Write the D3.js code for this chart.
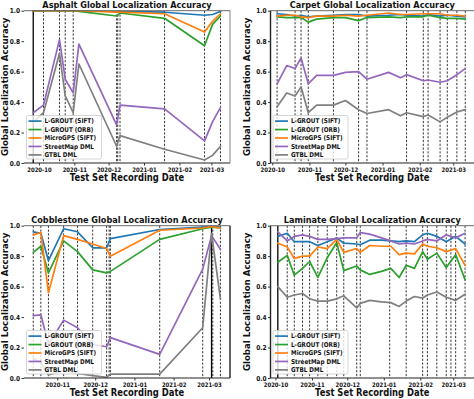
<!DOCTYPE html>
<html><head><meta charset="utf-8">
<script src="https://cdn.jsdelivr.net/npm/d3@7"></script>
<style>
body{margin:0;background:#fff}
svg{display:block}
text{font-family:"DejaVu Sans",sans-serif;font-weight:bold;fill:#111}
</style>
</head><body>
<svg id="c" width="474" height="399"></svg>
<script>
const seriesNames = ["L-GROUT (SIFT)","L-GROUT (ORB)","MicroGPS (SIFT)","StreetMap DML","GTBL DML"];
const seriesColors = ["#1f77b4","#2ca02c","#ff7f0e","#9467bd","#7f7f7f"];
const yTicks = [0,0.2,0.4,0.6,0.8,1.0];
const xLabel = "Test Set Recording Date";
const yLabel = "Global Localization Accuracy";

// ---- Asphalt ----
const asphaltDates = ["2020-09-26","2020-10-05","2020-10-19","2020-10-24","2020-10-31","2020-11-05","2020-12-08","2020-12-11","2021-01-19","2021-02-23","2021-03-02","2021-03-09"];
const asphaltSift   = [1,1,1,1,1,1,0.995,0.995,0.99,0.97,0.975,0.995];
const asphaltOrb    = [1,1,1,1,1,0.995,0.965,0.985,0.95,0.77,0.91,0.965];
const asphaltMicro  = [1,1,1,1,1,1,0.99,0.99,0.98,0.86,0.93,0.98];
const asphaltStreet = [0.33,0.38,0.81,0.55,0.46,0.78,0.25,0.38,0.355,0.145,0.27,0.365];
const asphaltGtbl   = [0.27,0.33,0.72,0.44,0.33,0.65,0.11,0.18,0.09,0.02,0.05,0.11];
const asphaltMarks  = ["2020-09-26","2020-09-26","2020-10-05","2020-10-19","2020-10-24","2020-10-31","2020-12-08","2020-12-09","2020-12-11","2021-01-19","2021-02-23","2021-03-09"];
const asphaltXlim   = ["2020-09-17T22:00","2021-03-17T07:00"];

// ---- Carpet ----
const carpetDates = ["2020-10-05","2020-10-13","2020-10-20","2020-10-25","2020-10-31","2020-11-07","2020-11-21","2020-12-01","2020-12-12","2020-12-19","2021-01-06","2021-01-16","2021-01-21","2021-02-04","2021-02-08","2021-02-18","2021-02-24","2021-03-04","2021-03-11"];
const carpetSift   = [0.98,0.975,0.965,0.97,0.96,0.965,0.97,0.975,0.975,0.965,0.97,0.975,0.97,0.965,0.975,0.965,0.97,0.965,0.96];
const carpetOrb    = [0.96,0.955,0.955,0.955,0.925,0.945,0.955,0.955,0.935,0.955,0.96,0.955,0.96,0.96,0.97,0.955,0.95,0.95,0.945];
const carpetMicro  = [0.965,0.97,0.97,0.96,0.955,0.965,0.965,0.97,0.965,0.97,0.985,0.975,0.975,0.98,0.98,0.98,0.97,0.97,0.965];
const carpetStreet = [0.52,0.64,0.62,0.69,0.52,0.575,0.575,0.595,0.60,0.55,0.595,0.56,0.58,0.54,0.545,0.53,0.54,0.58,0.62];
const carpetGtbl   = [0.37,0.46,0.44,0.50,0.33,0.38,0.38,0.41,0.35,0.325,0.35,0.31,0.33,0.305,0.315,0.27,0.30,0.335,0.35];
const carpetMarks  = ["2020-10-05","2020-10-20","2020-10-25","2020-10-31","2020-11-21","2020-12-12","2020-12-19","2021-01-21","2021-02-04","2021-02-08","2021-02-18","2021-02-24","2021-03-04","2021-03-11"];
const carpetXlim   = ["2020-09-29T12:00","2021-03-18T07:00"];

// ---- Cobblestone ----
const cobbleDates = ["2020-10-13","2020-10-19","2020-10-25","2020-11-06","2020-11-17","2020-11-29","2020-12-10","2020-12-13","2021-01-21","2021-02-24","2021-03-03","2021-03-10"];
const cobbleSift   = [0.96,0.95,0.77,0.98,0.96,0.855,0.855,0.915,0.975,0.99,1.0,0.99];
const cobbleOrb    = [0.825,0.865,0.69,0.90,0.83,0.71,0.69,0.70,0.91,0.98,0.99,0.985];
const cobbleMicro  = [0.94,0.955,0.56,0.935,0.91,0.88,0.85,0.80,0.97,0.985,0.995,0.985];
const cobbleStreet = [0.41,0.415,0.22,0.38,0.33,0.22,0.205,0.265,0.155,0.715,0.935,0.845];
const cobbleGtbl   = [0.13,0.1,0.02,0.05,0.03,0.015,0.005,0.025,0.025,0.33,0.95,0.52];
const cobbleMarks  = ["2020-10-13","2020-10-19","2020-10-25","2020-11-06","2020-11-17","2020-11-29","2020-12-10","2020-12-12","2020-12-13","2021-01-21","2021-02-24","2021-03-03","2021-03-03","2021-03-04","2021-03-10"];
const cobbleXlim   = ["2020-10-05T16:00","2021-03-17T14:00"];

// ---- Laminate ----
const laminateDates = ["2020-10-03","2020-10-11","2020-10-17","2020-10-24","2020-10-30","2020-11-06","2020-11-14","2020-11-22","2020-11-28","2020-12-09","2020-12-12","2020-12-20","2020-12-30","2021-01-07","2021-01-14","2021-01-20","2021-01-27","2021-02-03","2021-02-07","2021-02-15","2021-02-23","2021-03-03","2021-03-11"];
const laminateSift   = [0.93,0.95,0.895,0.895,0.895,0.87,0.895,0.92,0.885,0.88,0.875,0.905,0.905,0.90,0.895,0.90,0.895,0.94,0.95,0.93,0.895,0.93,0.88];
const laminateOrb    = [0.76,0.805,0.675,0.72,0.765,0.66,0.79,0.89,0.705,0.735,0.71,0.68,0.70,0.72,0.66,0.74,0.72,0.83,0.78,0.82,0.725,0.81,0.645];
const laminateMicro  = [0.885,0.86,0.785,0.80,0.80,0.86,0.85,0.91,0.825,0.85,0.825,0.87,0.865,0.865,0.81,0.82,0.815,0.88,0.865,0.855,0.83,0.85,0.74];
const laminateStreet = [0.96,0.90,0.93,0.94,0.93,0.91,0.91,0.915,0.92,0.92,0.955,0.945,0.92,0.90,0.88,0.885,0.88,0.90,0.91,0.90,0.94,0.92,0.95];
const laminateGtbl   = [0.60,0.53,0.545,0.555,0.52,0.505,0.505,0.52,0.54,0.46,0.49,0.51,0.50,0.495,0.47,0.505,0.535,0.525,0.545,0.565,0.53,0.51,0.55];
const laminateMarks  = ["2020-10-03","2020-10-03","2020-10-11","2020-10-17","2020-10-24","2020-10-30","2020-11-06","2020-11-14","2020-11-22","2020-11-28","2020-12-09","2020-12-12","2021-01-06","2021-01-20","2021-02-03","2021-02-07","2021-02-15","2021-02-23","2021-02-27","2021-03-03","2021-03-11"];
const laminateXlim   = ["2020-09-26T19:00","2021-03-18T14:00"];

const panels = [
  {title:"Asphalt Global Localization Accuracy", dates:asphaltDates, values:[asphaltSift,asphaltOrb,asphaltMicro,asphaltStreet,asphaltGtbl], marks:asphaltMarks, xlim:asphaltXlim, col:0, row:0, left:null, right:{c:"#777",w:0.9}},
  {title:"Carpet Global Localization Accuracy", dates:carpetDates, values:[carpetSift,carpetOrb,carpetMicro,carpetStreet,carpetGtbl], marks:carpetMarks, xlim:carpetXlim, col:1, row:0, left:{c:"#222",w:1.4}, right:null},
  {title:"Cobblestone Global Localization Accuracy", dates:cobbleDates, values:[cobbleSift,cobbleOrb,cobbleMicro,cobbleStreet,cobbleGtbl], marks:cobbleMarks, xlim:cobbleXlim, col:0, row:1, left:null, right:{c:"#222",w:1.4}},
  {title:"Laminate Global Localization Accuracy", dates:laminateDates, values:[laminateSift,laminateOrb,laminateMicro,laminateStreet,laminateGtbl], marks:laminateMarks, xlim:laminateXlim, col:1, row:1, left:{c:"#222",w:1.4}, right:null}
];

const colX = [[24,230],[270.5,474]];
const rowY = [[10.7,163],[225.7,378]];
const yLabelX = [4.5,247];
const SX = 0.86;

const svg = d3.select("#c");
const parseD = d3.utcParse("%Y-%m-%d");
const parseT = d3.utcParse("%Y-%m-%dT%H:%M");

function ctext(g, x, y, txt, size, anchor){
  return g.append("text").attr("transform",`translate(${x},${y}) scale(${SX},1)`)
    .attr("text-anchor",anchor).style("font-size",size+"px").text(txt);
}

panels.forEach((p,i)=>{
  const [x0,x1] = colX[p.col], [y0,y1] = rowY[p.row];
  const x = d3.scaleUtc().domain(p.xlim.map(parseT)).range([x0,x1]);
  const y = d3.scaleLinear().domain([0,1]).range([y1,y0]);
  const g = svg.append("g");
  const clipId = "clip"+i;
  svg.append("clipPath").attr("id",clipId).append("rect")
    .attr("x",x0).attr("y",y0).attr("width",x1-x0).attr("height",y1-y0);
  const plot = g.append("g").attr("clip-path",`url(#${clipId})`);

  // recording-date markers
  const counts = d3.rollup(p.marks, v=>v.length, d=>d);
  for (const [d,n] of counts){
    const xx = x(parseD(d));
    plot.append("line").attr("x1",xx).attr("x2",xx).attr("y1",y0).attr("y2",y1)
      .attr("stroke","#000").attr("stroke-width", n>1?1.3:0.8)
      .attr("stroke-dasharray", n>1?null:"2.2,1.6");
  }

  // series
  const line = d3.line().x((v,j)=>x(parseD(p.dates[j]))).y(v=>y(v));
  p.values.forEach((vals,k)=>{
    plot.append("path").attr("d",line(vals)).attr("fill","none")
      .attr("stroke",seriesColors[k]).attr("stroke-width",1.7)
      .attr("stroke-linejoin","round").attr("stroke-linecap","round");
  });

  // spines
  g.append("line").attr("x1",x0).attr("x2",x1).attr("y1",y1).attr("y2",y1).attr("stroke","#222").attr("stroke-width",1);
  g.append("line").attr("x1",x0).attr("x2",x1).attr("y1",y0).attr("y2",y0).attr("stroke","#444").attr("stroke-width",0.8);
  if (p.left) g.append("line").attr("x1",x0).attr("x2",x0).attr("y1",y0).attr("y2",y1).attr("stroke",p.left.c).attr("stroke-width",p.left.w);
  if (p.right) g.append("line").attr("x1",x1).attr("x2",x1).attr("y1",y0).attr("y2",y1).attr("stroke",p.right.c).attr("stroke-width",p.right.w);

  // x axis
  const xa = g.append("g").attr("transform",`translate(0,${y1})`)
    .call(d3.axisBottom(x).ticks(d3.utcMonth.every(1)).tickFormat(d3.utcFormat("%Y-%m")).tickSize(2.5).tickPadding(1.8));
  xa.select(".domain").remove();
  xa.selectAll("line").attr("stroke","#333");
  xa.selectAll("text").attr("transform",`scale(${SX},1)`).style("font-size","6.2px");

  // y axis
  const ya = g.append("g").attr("transform",`translate(${x0},0)`)
    .call(d3.axisLeft(y).tickValues(yTicks).tickFormat(d3.format(".1f")).tickSize(2.5).tickPadding(1.5));
  ya.select(".domain").remove();
  ya.selectAll("line").attr("stroke","#333");
  ya.selectAll("text").each(function(){
    const t = d3.select(this); const xx = +t.attr("x");
    t.attr("x",0).attr("transform",`translate(${xx},0) scale(${SX},1)`);
  }).style("font-size","6.8px");

  // title and labels
  const cx = (x0+x1)/2;
  ctext(g, cx, y0-2.8, p.title, 9.5, "middle");
  ctext(g, cx, y1+17.8, xLabel, 9.8, "middle");
  g.append("text").attr("transform",`translate(${yLabelX[p.col]},${(y0+y1)/2}) rotate(-90)`)
    .attr("text-anchor","middle").attr("dy","0.35em").style("font-size","8.6px").text(yLabel);

  // legend
  const lx = x0+2.5, ly = y1-47.5;
  g.append("rect").attr("x",lx).attr("y",ly).attr("width",75).attr("height",43.5).attr("rx",1.5)
    .attr("fill","rgba(255,255,255,0.8)").attr("stroke","#ccc").attr("stroke-width",0.8);
  seriesNames.forEach((name,k)=>{
    const cy = ly+5.6+k*8.45;
    g.append("line").attr("x1",lx+2).attr("x2",lx+15).attr("y1",cy).attr("y2",cy)
      .attr("stroke",seriesColors[k]).attr("stroke-width",1.7);
    ctext(g, lx+18, cy+2.3, name, 6.6, "start");
  });
});
</script>
</body></html>
